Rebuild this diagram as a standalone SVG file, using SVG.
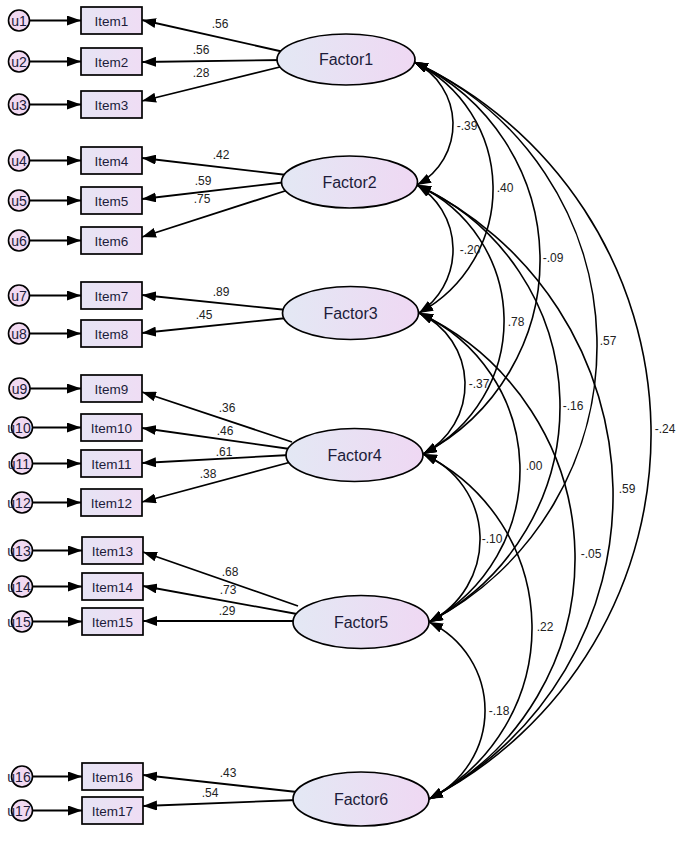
<svg xmlns="http://www.w3.org/2000/svg" width="680" height="850" viewBox="0 0 680 850">
<style>
.lat{stroke:#000;stroke-width:1.7;fill:url(#gE)}
.obs{stroke:#000;stroke-width:1.7;fill:url(#gB)}
.err{stroke:#000;stroke-width:1.6;fill:#f1d9f1}
.ln{stroke:#000;stroke-width:1.8;fill:none;marker-end:url(#ah)}
.cv{stroke:#000;stroke-width:1.6;fill:none;marker-start:url(#ah);marker-end:url(#ah)}
.tf{font-family:"Liberation Sans",Arial,sans-serif;font-size:16px;fill:#1c1c3a;text-anchor:middle}
.ti{font-family:"Liberation Sans",Arial,sans-serif;font-size:13.5px;fill:#1c1c3a;text-anchor:middle}
.tu{font-family:"Liberation Sans",Arial,sans-serif;font-size:14px;fill:#1c1c3a;text-anchor:middle}
.tn{font-family:"Liberation Sans",Arial,sans-serif;font-size:12px;fill:#222;text-anchor:middle}
</style>
<defs>
<linearGradient id="gE" x1="0" y1="0" x2="1" y2="0"><stop offset="0" stop-color="#e3e8f4"/><stop offset="1" stop-color="#efd8f3"/></linearGradient>
<linearGradient id="gB" x1="0" y1="0" x2="1" y2="0"><stop offset="0" stop-color="#e6e4f4"/><stop offset="1" stop-color="#efddf4"/></linearGradient>
<marker id="ah" viewBox="0 0 14 10" refX="14" refY="5" markerWidth="14" markerHeight="10" markerUnits="userSpaceOnUse" orient="auto-start-reverse"><path d="M0,0 L14,5 L0,10 z" fill="#000"/></marker>
</defs>
<rect width="680" height="850" fill="#fff"/>
<g id="connectors">
<line class="ln" x1="30" y1="20.5" x2="81" y2="20.5"/>
<line class="ln" x1="30" y1="61.5" x2="81" y2="61.5"/>
<line class="ln" x1="30" y1="104.5" x2="81" y2="104.5"/>
<line class="ln" x1="30" y1="160.5" x2="81" y2="160.5"/>
<line class="ln" x1="30" y1="200.5" x2="81" y2="200.5"/>
<line class="ln" x1="30" y1="240.5" x2="81" y2="240.5"/>
<line class="ln" x1="30" y1="295.5" x2="81" y2="295.5"/>
<line class="ln" x1="30" y1="333.5" x2="81" y2="333.5"/>
<line class="ln" x1="30" y1="388.5" x2="81" y2="388.5"/>
<line class="ln" x1="32" y1="427.5" x2="81" y2="427.5"/>
<line class="ln" x1="32" y1="463.5" x2="81" y2="463.5"/>
<line class="ln" x1="32" y1="502.5" x2="81" y2="502.5"/>
<line class="ln" x1="32" y1="550.5" x2="82" y2="550.5"/>
<line class="ln" x1="32" y1="586.5" x2="82" y2="586.5"/>
<line class="ln" x1="32" y1="621.5" x2="82" y2="621.5"/>
<line class="ln" x1="32" y1="776.5" x2="82" y2="776.5"/>
<line class="ln" x1="32" y1="810.5" x2="82" y2="810.5"/>
<line class="ln" x1="284" y1="52" x2="142" y2="20"/>
<line class="ln" x1="284" y1="60" x2="142" y2="62"/>
<line class="ln" x1="284" y1="66" x2="142" y2="101"/>
<line class="ln" x1="287" y1="175" x2="142" y2="158"/>
<line class="ln" x1="287" y1="182" x2="142" y2="199"/>
<line class="ln" x1="288" y1="190" x2="142" y2="237"/>
<line class="ln" x1="287" y1="310" x2="142" y2="295"/>
<line class="ln" x1="287" y1="318" x2="142" y2="333"/>
<line class="ln" x1="292" y1="442" x2="142" y2="392"/>
<line class="ln" x1="290" y1="449" x2="142" y2="428"/>
<line class="ln" x1="290" y1="455" x2="142" y2="463"/>
<line class="ln" x1="291" y1="462" x2="142" y2="502"/>
<line class="ln" x1="298" y1="606" x2="143" y2="552"/>
<line class="ln" x1="297" y1="614" x2="143" y2="586"/>
<line class="ln" x1="296" y1="621" x2="143" y2="621"/>
<line class="ln" x1="297" y1="792" x2="143" y2="775"/>
<line class="ln" x1="297" y1="800" x2="143" y2="806"/>
<path class="cv" d="M414,62 A69.2,69.2 0 0 1 417,185"/>
<path class="cv" d="M414,62 A141.2,141.2 0 0 1 419,313"/>
<path class="cv" d="M414,62 A218.9,218.9 0 0 1 423,454"/>
<path class="cv" d="M414,62 A311.3,311.3 0 0 1 429,622"/>
<path class="cv" d="M414,62 A410.7,410.7 0 0 1 429,799"/>
<path class="cv" d="M417,185 A76,76 0 0 1 419,313"/>
<path class="cv" d="M417,185 A149.7,149.7 0 0 1 423,454"/>
<path class="cv" d="M417,185 A242.9,242.9 0 0 1 429,622"/>
<path class="cv" d="M417,185 A343.1,343.1 0 0 1 429,799"/>
<path class="cv" d="M419,313 A78.5,78.5 0 0 1 423,454"/>
<path class="cv" d="M419,313 A172.5,172.5 0 0 1 429,622"/>
<path class="cv" d="M419,313 A271.1,271.1 0 0 1 429,799"/>
<path class="cv" d="M423,454 A92.4,92.4 0 0 1 429,622"/>
<path class="cv" d="M423,454 A193.4,193.4 0 0 1 429,799"/>
<path class="cv" d="M429,622 A97.9,97.9 0 0 1 429,799"/>
<g>
<text class="tn" x="220" y="28">.56</text>
<text class="tn" x="201" y="54">.56</text>
<text class="tn" x="201" y="77">.28</text>
<text class="tn" x="221" y="159">.42</text>
<text class="tn" x="203" y="185">.59</text>
<text class="tn" x="202" y="203">.75</text>
<text class="tn" x="221" y="296">.89</text>
<text class="tn" x="204" y="319">.45</text>
<text class="tn" x="227" y="412">.36</text>
<text class="tn" x="225" y="435">.46</text>
<text class="tn" x="224" y="456">.61</text>
<text class="tn" x="208" y="478">.38</text>
<text class="tn" x="230" y="576">.68</text>
<text class="tn" x="228" y="594">.73</text>
<text class="tn" x="227" y="615">.29</text>
<text class="tn" x="228" y="777">.43</text>
<text class="tn" x="210" y="797">.54</text>
<text class="tn" x="467" y="130">-.39</text>
<text class="tn" x="505" y="192">.40</text>
<text class="tn" x="553" y="262">-.09</text>
<text class="tn" x="608" y="345">.57</text>
<text class="tn" x="665" y="433">-.24</text>
<text class="tn" x="470" y="254">-.20</text>
<text class="tn" x="516" y="326">.78</text>
<text class="tn" x="573" y="410">-.16</text>
<text class="tn" x="627" y="493">.59</text>
<text class="tn" x="479" y="388">-.37</text>
<text class="tn" x="534" y="470">.00</text>
<text class="tn" x="591" y="558">-.05</text>
<text class="tn" x="492" y="543">-.10</text>
<text class="tn" x="545" y="631">.22</text>
<text class="tn" x="499" y="715">-.18</text>
</g>
</g>
<g id="Factor1"><ellipse class="lat" cx="346" cy="59.5" rx="69" ry="25.5"/><text class="tf" x="346" y="65">Factor1</text></g>
<g id="Factor2"><ellipse class="lat" cx="349.5" cy="182" rx="68" ry="26"/><text class="tf" x="349.5" y="188">Factor2</text></g>
<g id="Factor3"><ellipse class="lat" cx="350.5" cy="313" rx="68" ry="26.5"/><text class="tf" x="350.5" y="319">Factor3</text></g>
<g id="Factor4"><ellipse class="lat" cx="354.5" cy="455" rx="68.5" ry="26.5"/><text class="tf" x="354.5" y="461">Factor4</text></g>
<g id="Factor5"><ellipse class="lat" cx="361" cy="622" rx="68" ry="26.5"/><text class="tf" x="361" y="628">Factor5</text></g>
<g id="Factor6"><ellipse class="lat" cx="361" cy="799" rx="68" ry="27"/><text class="tf" x="361" y="805">Factor6</text></g>
<g id="Item1"><rect class="obs" x="81" y="7" width="61" height="27"/><text class="ti" x="111.5" y="25.5">Item1</text></g>
<g id="Item2"><rect class="obs" x="81" y="48" width="61" height="27"/><text class="ti" x="111.5" y="66.5">Item2</text></g>
<g id="Item3"><rect class="obs" x="81" y="91" width="61" height="27"/><text class="ti" x="111.5" y="109.5">Item3</text></g>
<g id="Item4"><rect class="obs" x="81" y="147" width="61" height="27"/><text class="ti" x="111.5" y="165.5">Item4</text></g>
<g id="Item5"><rect class="obs" x="81" y="187" width="61" height="27"/><text class="ti" x="111.5" y="205.5">Item5</text></g>
<g id="Item6"><rect class="obs" x="81" y="227" width="61" height="27"/><text class="ti" x="111.5" y="245.5">Item6</text></g>
<g id="Item7"><rect class="obs" x="81" y="282" width="61" height="27"/><text class="ti" x="111.5" y="300.5">Item7</text></g>
<g id="Item8"><rect class="obs" x="81" y="320" width="61" height="27"/><text class="ti" x="111.5" y="338.5">Item8</text></g>
<g id="Item9"><rect class="obs" x="81" y="375" width="61" height="27"/><text class="ti" x="111.5" y="393.5">Item9</text></g>
<g id="Item10"><rect class="obs" x="81" y="414" width="61" height="27"/><text class="ti" x="111.5" y="432.5">Item10</text></g>
<g id="Item11"><rect class="obs" x="81" y="450" width="61" height="27"/><text class="ti" x="111.5" y="468.5">Item11</text></g>
<g id="Item12"><rect class="obs" x="81" y="489" width="61" height="27"/><text class="ti" x="111.5" y="507.5">Item12</text></g>
<g id="Item13"><rect class="obs" x="82" y="537" width="61" height="27"/><text class="ti" x="112.5" y="555.5">Item13</text></g>
<g id="Item14"><rect class="obs" x="82" y="573" width="61" height="27"/><text class="ti" x="112.5" y="591.5">Item14</text></g>
<g id="Item15"><rect class="obs" x="82" y="608" width="61" height="27"/><text class="ti" x="112.5" y="626.5">Item15</text></g>
<g id="Item16"><rect class="obs" x="82" y="763" width="61" height="27"/><text class="ti" x="112.5" y="781.5">Item16</text></g>
<g id="Item17"><rect class="obs" x="82" y="797" width="61" height="27"/><text class="ti" x="112.5" y="815.5">Item17</text></g>
<g id="u1"><circle class="err" cx="19" cy="20.5" r="10.5"/><text class="tu" x="19" y="25.5">u1</text></g>
<g id="u2"><circle class="err" cx="19" cy="61.5" r="10.5"/><text class="tu" x="19" y="66.5">u2</text></g>
<g id="u3"><circle class="err" cx="19" cy="104.5" r="10.5"/><text class="tu" x="19" y="109.5">u3</text></g>
<g id="u4"><circle class="err" cx="19" cy="160.5" r="10.5"/><text class="tu" x="19" y="165.5">u4</text></g>
<g id="u5"><circle class="err" cx="19" cy="200.5" r="10.5"/><text class="tu" x="19" y="205.5">u5</text></g>
<g id="u6"><circle class="err" cx="19" cy="240.5" r="10.5"/><text class="tu" x="19" y="245.5">u6</text></g>
<g id="u7"><circle class="err" cx="19" cy="295.5" r="10.5"/><text class="tu" x="19" y="300.5">u7</text></g>
<g id="u8"><circle class="err" cx="19" cy="333.5" r="10.5"/><text class="tu" x="19" y="338.5">u8</text></g>
<g id="u9"><circle class="err" cx="19.5" cy="388.5" r="10.5"/><text class="tu" x="19.5" y="393.5">u9</text></g>
<g id="u10"><circle class="err" cx="22" cy="427.5" r="10.5"/><text class="tu" x="19" y="432.5">u10</text></g>
<g id="u11"><circle class="err" cx="22" cy="463.5" r="10.5"/><text class="tu" x="19" y="468.5">u11</text></g>
<g id="u12"><circle class="err" cx="22" cy="502.5" r="10.5"/><text class="tu" x="19" y="507.5">u12</text></g>
<g id="u13"><circle class="err" cx="22" cy="550.5" r="10.5"/><text class="tu" x="19" y="555.5">u13</text></g>
<g id="u14"><circle class="err" cx="22" cy="586.5" r="10.5"/><text class="tu" x="19" y="591.5">u14</text></g>
<g id="u15"><circle class="err" cx="22" cy="621.5" r="10.5"/><text class="tu" x="19" y="626.5">u15</text></g>
<g id="u16"><circle class="err" cx="22" cy="776.5" r="10.5"/><text class="tu" x="19" y="781.5">u16</text></g>
<g id="u17"><circle class="err" cx="22" cy="810.5" r="10.5"/><text class="tu" x="19" y="815.5">u17</text></g>
</svg>
